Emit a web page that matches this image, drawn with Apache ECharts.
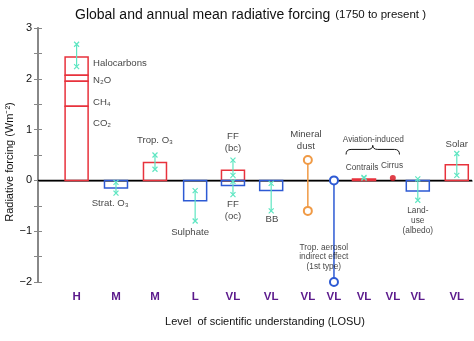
<!DOCTYPE html>
<html>
<head>
<meta charset="utf-8">
<script src="https://cdn.jsdelivr.net/npm/echarts@6/dist/echarts.min.js"></script>
<style>html,body{margin:0;padding:0;background:#fff}#c{width:474px;height:341px}</style>
</head>
<body>
<div id="c"></div>
<script>
// ---- data ----
const losu = ['H','M','M','L','VL','VL','VL','VL','VL','VL','VL','VL'];
const slots = [0.99, 2.0, 3.0, 4.03, 5.0, 5.98, 6.92, 7.59, 8.36, 9.1, 9.74, 10.74];

// greenhouse gases stacked (CO2, CH4, N2O, Halocarbons)
const ghgNames = ['CO₂','CH₄','N₂O','Halocarbons'];
const ghgValues = [1.46, 0.49, 0.12, 0.36];

// single-bar forcings
const barNames = ['Strat. O₃','Trop. O₃','Sulphate','FF (bc)','FF (oc)','BB','Contrails','Land-use','Solar'];
const barSlot = [1, 2, 3, 4, 4, 5, 8, 10, 11];
const barValues = [-0.15, 0.35, -0.4, 0.2, -0.1, -0.2, 0.03, -0.21, 0.31];

// uncertainty ranges
const errSlot = [0, 1, 2, 3, 4, 4, 5, 8, 10, 11];
const errHigh = [2.68, -0.04, 0.5, -0.2, 0.4, -0.02, -0.06, 0.06, 0.03, 0.53];
const errLow  = [2.24, -0.25, 0.22, -0.8, 0.1, -0.28, -0.6, 0.045, -0.39, 0.1];

// range-only forcings
const dustSlot = 6, dustRange = [0.4, -0.6];
const indirectSlot = 7, indirectRange = [0, -2];
const cirrusSlot = 9, cirrusValue = 0.045;

const yTicks = [-2, -1, 0, 1, 2, 3];

// ---- styles ----
const RED = '#e8323c', BLUE = '#2d5ad4', ORANGE = '#f09a45', CYAN = '#5ee6c2', PURPLE = '#5b1a8c';
const FONT = 'Liberation Sans, Arial, Helvetica, sans-serif';
const HALF = 0.295;

// build boxes
const boxes = [];
let cum = 0;
ghgValues.forEach(v => { boxes.push([slots[0], cum, cum + v, 0]); cum += v; });
barValues.forEach((v, i) => {
  boxes.push([slots[barSlot[i]], Math.min(0, v), Math.max(0, v), v > 0 ? 0 : 1]);
});
const errs = errSlot.map((s, i) => [slots[s], errLow[i], errHigh[i]]);

const chart = echarts.init(document.getElementById('c'));

function crossPath(p, s) {
  return `M${p[0]-s},${p[1]-s}L${p[0]+s},${p[1]+s}M${p[0]-s},${p[1]+s}L${p[0]+s},${p[1]-s}`;
}

const ann = [
  {name:'Halocarbons', value:[1.41, 2.31], al:'left'},
  {name:'N₂O', value:[1.41, 1.97], al:'left'},
  {name:'CH₄', value:[1.41, 1.54], al:'left'},
  {name:'CO₂', value:[1.41, 1.12], al:'left'},
  {name:'Trop. O₃', value:[3.0, 0.79]},
  {name:'Strat. O₃', value:[1.85, -0.45]},
  {name:'Sulphate', value:[3.9, -1.03]},
  {name:'FF\n(bc)', value:[5.0, 0.75]},
  {name:'FF\n(oc)', value:[5.0, -0.59]},
  {name:'BB', value:[6.0, -0.77]},
  {name:'Mineral\ndust', value:[6.87, 0.79]},
  {name:'Solar', value:[10.74, 0.71]},
  {name:'Aviation-induced', value:[8.6, 0.81], sm:true},
  {name:'Contrails', value:[8.31, 0.24], sm:true},
  {name:'Cirrus', value:[9.08, 0.28], sm:true},
  {name:'Land-\nuse\n(albedo)', value:[9.74, -0.79], sm:true},
  {name:'Trop. aerosol\nindirect effect\n(1st type)', value:[7.33, -1.51], sm:true}
].map(a => ({
  name: a.name, value: a.value,
  label: { align: a.al || 'center', fontSize: a.sm ? 8.3 : 9.6, lineHeight: a.sm ? 9.8 : 12 }
}));

const option = {
  animation: false,
  textStyle: { fontFamily: FONT },
  title: {
    text: '{a|Global and annual mean radiative forcing} {b|(1750 to present )}',
    left: 70, top: 1,
    textStyle: { fontWeight: 'normal', rich: {
      a: { fontSize: 14, fontFamily: FONT, color: '#111', fontWeight: 'normal' },
      b: { fontSize: 11.5, fontFamily: FONT, color: '#111', fontWeight: 'normal' }
    } }
  },
  grid: { left: 38, right: 2, top: 28, bottom: 59, containLabel: false, outerBoundsMode: 'none' },
  xAxis: [{
    type: 'value', min: 0, max: 11.13, position: 'bottom',
    axisLine: { show: true, lineStyle: { color: '#888', width: 1.5 } },
    axisTick: { show: false },
    splitLine: { show: false },
    axisLabel: {
      customValues: slots, margin: 9,
      formatter: v => { let b = 0; slots.forEach((s, i) => { if (Math.abs(s - v) < Math.abs(slots[b] - v)) b = i; }); return losu[b]; },
      color: PURPLE, fontWeight: 'bold', fontSize: 11.5, fontFamily: FONT
    },
    name: 'Level  of scientific understanding (LOSU)', nameLocation: 'middle', nameGap: 34, nameMoveOverlap: false,
    nameTextStyle: { fontSize: 11, color: '#111', fontFamily: FONT, padding: [0, 0, 0, 20] }
  }, {
    type: 'value', min: 0, max: 11.13, position: 'top',
    axisLine: { show: true, lineStyle: { color: '#888', width: 1.5 } },
    axisTick: { show: false }, axisLabel: { show: false }, splitLine: { show: false }
  }],
  yAxis: [{
    type: 'value', min: -2, max: 3, interval: 0.5, position: 'left',
    axisLine: { show: true, lineStyle: { color: '#888', width: 1.5 } },
    axisTick: { show: true, inside: true, length: 4, lineStyle: { color: '#888' } },
    splitLine: { show: false },
    axisLabel: {
      margin: 6, fontSize: 11, color: '#111', fontFamily: FONT,
      formatter: v => yTicks.includes(v) ? (v < 0 ? '\u2212' + Math.abs(v) : String(v)) : ''
    },
    name: 'Radiative forcing (Wm⁻²)', nameLocation: 'middle', nameGap: 23, nameMoveOverlap: false,
    nameTextStyle: { fontSize: 11, color: '#111', fontFamily: FONT, padding: [0, 14, 0, 0] }
  }, {
    type: 'value', min: -2, max: 3, interval: 0.5, position: 'right',
    axisLine: { show: true, lineStyle: { color: '#888', width: 2 } },
    axisTick: { show: true, inside: true, length: 4, lineStyle: { color: '#888' } },
    axisLabel: { show: false }, splitLine: { show: false }
  }],
  series: [
    {
      type: 'custom', name: 'zero', xAxisIndex: 0, yAxisIndex: 0, z: 3,
      data: [[0, 0]],
      renderItem: (params, api) => {
        const a = api.coord([0, 0]), b = api.coord([11.13, 0]);
        return { type: 'line', shape: { x1: a[0], y1: a[1], x2: b[0], y2: b[1] }, style: { stroke: '#000', lineWidth: 1.5 } };
      }
    },
    {
      type: 'custom', name: 'boxes', z: 4,
      data: boxes,
      renderItem: (params, api) => {
        const x = api.value(0), lo = api.value(1), hi = api.value(2), c = api.value(3);
        const p1 = api.coord([x - HALF, hi]), p2 = api.coord([x + HALF, lo]);
        return { type: 'rect', shape: { x: p1[0], y: p1[1], width: p2[0] - p1[0], height: p2[1] - p1[1] },
          style: { fill: 'none', stroke: c === 0 ? RED : BLUE, lineWidth: 1.5 } };
      }
    },
    {
      type: 'custom', name: 'errors', z: 5,
      data: errs,
      renderItem: (params, api) => {
        const x = api.value(0);
        const a = api.coord([x, api.value(2)]), b = api.coord([x, api.value(1)]);
        return { type: 'group', children: [
          { type: 'line', shape: { x1: a[0], y1: a[1], x2: b[0], y2: b[1] }, style: { stroke: CYAN, lineWidth: 1.2 } },
          { type: 'path', shape: { pathData: crossPath(a, 2.5) }, style: { stroke: CYAN, lineWidth: 1.2, fill: 'none' } },
          { type: 'path', shape: { pathData: crossPath(b, 2.5) }, style: { stroke: CYAN, lineWidth: 1.2, fill: 'none' } }
        ] };
      }
    },
    {
      type: 'line', name: 'Mineral dust', z: 5, clip: false,
      data: dustRange.map(v => [slots[dustSlot], v]),
      symbol: 'emptyCircle', symbolSize: 8,
      lineStyle: { color: ORANGE, width: 1.5 }, itemStyle: { color: ORANGE, borderWidth: 1.5 }
    },
    {
      type: 'line', name: 'Indirect', z: 5, clip: false,
      data: indirectRange.map(v => [slots[indirectSlot], v]),
      symbol: 'emptyCircle', symbolSize: 8,
      lineStyle: { color: BLUE, width: 1.5 }, itemStyle: { color: BLUE, borderWidth: 1.5 }
    },
    {
      type: 'scatter', name: 'Cirrus', z: 5,
      data: [[slots[cirrusSlot], cirrusValue]],
      symbol: 'circle', symbolSize: 6, itemStyle: { color: '#d8101c' }
    },
    {
      type: 'custom', name: 'brace', z: 5,
      data: [[7.9, 9.27]],
      renderItem: (params, api) => {
        const x1 = api.value(0), x2 = api.value(1), xm = (x1 + x2) / 2;
        const L = api.coord([x1, 0.51]), M = api.coord([xm, 0.61]), R = api.coord([x2, 0.51]), T = api.coord([xm, 0.69]);
        const ym = M[1], r = 5;
        const d = `M${L[0]},${L[1]}Q${L[0]},${ym} ${L[0]+r},${ym}L${M[0]-r},${ym}Q${M[0]},${ym} ${M[0]},${T[1]}` +
                  `Q${M[0]},${ym} ${M[0]+r},${ym}L${R[0]-r},${ym}Q${R[0]},${ym} ${R[0]},${R[1]}`;
        return { type: 'path', shape: { pathData: d }, style: { stroke: '#111', lineWidth: 1, fill: 'none' } };
      }
    },
    {
      type: 'scatter', name: 'labels', z: 6, symbolSize: 0, silent: true,
      data: ann,
      label: { show: true, position: 'inside', verticalAlign: 'middle', color: '#111', fontFamily: FONT,
        formatter: p => p.name }
    }
  ]
};
chart.setOption(option);
</script>
</body>
</html>
